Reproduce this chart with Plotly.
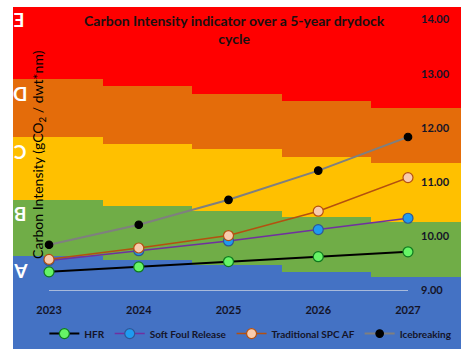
import plotly.graph_objects as go

# ---- data ----
years = [2023, 2024, 2025, 2026, 2027]
year_labels = ["2023", "2024", "2025", "2026", "2027"]

hfr = [9.34, 9.43, 9.53, 9.62, 9.71]
soft_foul = [9.55, 9.73, 9.91, 10.12, 10.33]
traditional = [9.57, 9.78, 10.01, 10.46, 11.08]
icebreaking = [9.84, 10.21, 10.67, 11.21, 11.83]

# CII rating band boundaries per year (background)
green_blue = [9.64, 9.55, 9.47, 9.34, 9.25]
yellow_green = [10.67, 10.55, 10.46, 10.35, 10.26]
orange_yellow = [11.83, 11.70, 11.60, 11.47, 11.35]
red_orange = [12.90, 12.77, 12.63, 12.49, 12.36]
band_floor = 7.0
band_ceiling = 15.0

rating_letters = ["E", "D", "C", "B", "A"]
rating_letter_y = [0.96, 0.746, 0.575, 0.395, 0.225]

y_ticks = [9, 10, 11, 12, 13, 14]

FONT = "Lato"
TXT = "#141428"
AXLINE = "rgba(235,235,235,0.6)"

# geometry
W, H = 474, 355
ml, mr = 13, 13
xdom = [0.0804, 0.8817]
ydom = [0.1718, 0.9634]
ymin, ymax = 9, 14
per = (ymax - ymin) / (ydom[1] - ydom[0])
bg_range = [ymin - ydom[0] * per, ymax + (1 - ydom[1]) * per]

fig = go.Figure()

bands = [
    ("#4472C4", [band_floor] * 5, green_blue),
    ("#70AD47", green_blue, yellow_green),
    ("#FFC000", yellow_green, orange_yellow),
    ("#E46C0A", orange_yellow, red_orange),
    ("#FF0000", red_orange, [band_ceiling] * 5),
]
for color, lo, hi in bands:
    fig.add_trace(go.Bar(
        x=year_labels, y=[h - l for h, l in zip(hi, lo)], base=lo,
        marker=dict(color=color, line=dict(width=0)),
        showlegend=False, hoverinfo="skip", xaxis="x", yaxis="y",
    ))

series = [
    ("HFR", hfr, "#000000", 2, "#66F566", "#0F7A1F", 10),
    ("Soft Foul Release", soft_foul, "#7030A0", 1.5, "#1F9BF0", "#2F5597", 10),
    ("Traditional SPC AF", traditional, "#B4500F", 1.5, "#F8CBAD", "#B4500F", 10),
    ("Icebreaking", icebreaking, "#7F7F7F", 2, "#000000", "#000000", 7.5),
]
for name, vals, lc, lw, mc, mlc, ms in series:
    fig.add_trace(go.Scatter(
        x=years, y=vals, name=name, mode="lines+markers",
        line=dict(color=lc, width=lw),
        marker=dict(symbol="circle", size=ms, color=mc, line=dict(color=mlc, width=1.2)),
        xaxis="x2", yaxis="y2", cliponaxis=False,
    ))

annotations = []
for letter, yy in zip(rating_letters, rating_letter_y):
    annotations.append(dict(
        text=letter, xref="paper", yref="paper", x=-0.004, y=yy,
        xanchor="left", yanchor="middle", showarrow=False, textangle=180,
        font=dict(family=FONT, size=19, color="white", weight="bold"),
    ))
annotations.append(dict(
    text="Carbon Intensity (gCO<sub>2</sub> / dwt*nm)",
    xref="x2 domain", yref="y2 domain", x=0, y=0.5, xshift=-10,
    xanchor="center", yanchor="middle", showarrow=False, textangle=-90,
    font=dict(family=FONT, size=14, color="#000000"),
))

fig.update_layout(
    width=W, height=H,
    margin=dict(l=ml, r=mr, t=0, b=0),
    paper_bgcolor="white", plot_bgcolor="rgba(0,0,0,0)",
    barmode="overlay", bargap=0,
    font=dict(family=FONT, color=TXT),
    title=dict(
        text="Carbon Intensity indicator over a 5-year drydock<br>cycle",
        x=0.494, xanchor="center", y=0.926, yanchor="middle",
        font=dict(family=FONT, size=14, color="#1a1010", weight="bold"),
    ),
    xaxis=dict(domain=[0, 1], range=[-0.5, 4.5], visible=False, fixedrange=True),
    yaxis=dict(domain=[0, 1], range=bg_range, visible=False, fixedrange=True),
    xaxis2=dict(
        domain=xdom, anchor="y2", range=[2023, 2027],
        tickvals=years, ticktext=year_labels,
        showline=True, linecolor=AXLINE, linewidth=1.2,
        showgrid=False, zeroline=False, ticks="",
        ticklabelstandoff=9,
        tickfont=dict(family=FONT, size=11, color=TXT, weight="bold"),
    ),
    yaxis2=dict(
        domain=ydom, anchor="x2", range=[ymin, ymax],
        side="right", showline=False,
        tickvals=y_ticks, tickformat=".2f",
        showgrid=False, zeroline=False, ticks="",
        ticklabelstandoff=12,
        tickfont=dict(family=FONT, size=11, color=TXT, weight="bold"),
    ),
    shapes=[dict(
        type="line", xref="x2 domain", yref="y2 domain",
        x0=0, x1=0, y0=0, y1=1, line=dict(color=AXLINE, width=1.2), layer="below",
    )],
    legend=dict(
        orientation="h", x=0.07, xanchor="left", y=0.045, yanchor="middle",
        bgcolor="rgba(0,0,0,0)", itemwidth=30,
        font=dict(family=FONT, size=10, color=TXT, weight="bold"),
    ),
    annotations=annotations,
    showlegend=True,
)

fig.write_html("out.html", config={"displayModeBar": False},
               post_script="document.body.style.margin='0';")
